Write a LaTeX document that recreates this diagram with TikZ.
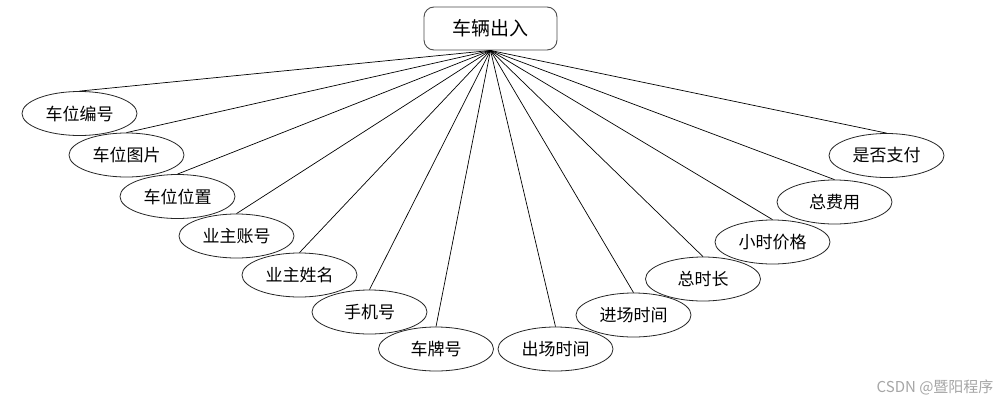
\documentclass[tikz,border=0pt]{standalone}
\usepackage{fontspec}
\newfontfamily\cjk{Noto Sans CJK SC}
\usetikzlibrary{shapes.geometric}
\begin{document}
\begin{tikzpicture}[x=1pt,y=-1pt,
  attr/.style={draw=black!85, ellipse, minimum width=115pt, minimum height=44pt, inner sep=0pt, font=\cjk\fontsize{17}{17}\selectfont, line width=0.8pt},
  root/.style={draw=black!70, rounded corners=10pt, minimum width=133pt, minimum height=43pt, inner sep=0pt, font=\cjk\fontsize{19}{19}\selectfont, line width=0.9pt},
  link/.style={draw=black, line width=0.7pt}]
\useasboundingbox (0,0) rectangle (1001,407);
\fill[white] (0,0) rectangle (1001,407);
\node[root] (r) at (490.5,28.5) {车辆出入};
\node[attr] (a1) at (79.5,113.5) {车位编号};
\node[attr] (a2) at (126.5,155) {车位图片};
\node[attr] (a3) at (177.5,196.5) {车位位置};
\node[attr] (a4) at (236.5,236) {业主账号};
\node[attr] (a5) at (299.5,275) {业主姓名};
\node[attr] (a6) at (369.5,312) {手机号};
\node[attr] (a7) at (436,349) {车牌号};
\node[attr] (a8) at (555.5,349) {出场时间};
\node[attr] (a9) at (633.5,315) {进场时间};
\node[attr] (a10) at (703,279) {总时长};
\node[attr] (a11) at (772.5,242) {小时价格};
\node[attr] (a12) at (834.5,202) {总费用};
\node[attr] (a13) at (886.5,155.5) {是否支付};
\foreach \i in {1,...,13} \draw[link] (r.south) -- (a\i.north);
\node[font=\cjk\fontsize{15}{15}\selectfont, text=black!35, anchor=east] (wm) at (997,387) {CSDN @暨阳程序};
\end{tikzpicture}
\end{document}
